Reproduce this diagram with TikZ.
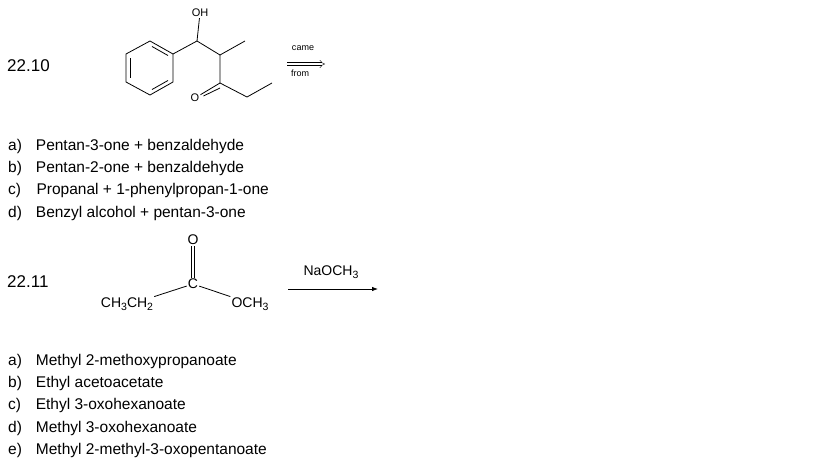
\documentclass[tikz,border=0pt]{standalone}
\usepackage{fontspec}
\setmainfont{Liberation Sans}
\usetikzlibrary{arrows.meta,calc,positioning}
\newcommand{\lsub}[1]{\raisebox{-0.35ex}{\fontsize{10.5}{11}\selectfont #1}}
\tikzset{
  atom/.style={inner sep=1pt,font=\fontsize{11}{12}\selectfont},
  grp/.style={inner sep=1pt,font=\fontsize{14}{15}\selectfont},
  opt/.style={anchor=west,inner sep=0pt,font=\fontsize{15.5}{17}\selectfont},
  num/.style={anchor=west,inner sep=0pt,font=\fontsize{17}{18}\selectfont},
  bond/.style={line width=0.8pt}
}
\begin{document}
\begin{tikzpicture}[x=1pt,y=-1pt]
    \useasboundingbox (0,0) rectangle (819,460);
    % 22.10
    \node[num] (n1) at (7,66) {22.10};
    \coordinate (r1) at (150,41);
    \coordinate (r2) at (173,54);
    \coordinate (r3) at (173,82);
    \coordinate (r4) at (150,95);
    \coordinate (r5) at (126,82);
    \coordinate (r6) at (126,54);
    \draw[bond] (r1)--(r2)--(r3)--(r4)--(r5)--(r6)--cycle;
    \draw[bond] ($(r1)!0.15!(r2)+(-1.5,3.5)$)--($(r2)!0.15!(r1)+(-1.5,3.5)$);
    \draw[bond] ($(r3)!0.15!(r4)+(-1.5,-3.5)$)--($(r4)!0.15!(r3)+(-1.5,-3.5)$);
    \draw[bond] ($(r5)!0.15!(r6)+(4,0)$)--($(r6)!0.15!(r5)+(4,0)$);
    \coordinate (c1) at (197,41);
    \coordinate (c2) at (220,55);
    \coordinate (c3) at (220,83);
    \coordinate (me) at (245,41);
    \coordinate (c4) at (247,97);
    \coordinate (c5) at (272,83);
    \node[atom] (oh) at (200,13) {OH};
    \node[atom] (o1) at (195,98) {O};
    \draw[bond] (r2)--(c1)--(c2)--(me);
    \draw[bond] (c1)--(oh);
    \draw[bond] (c2)--(c3)--(c4)--(c5);
    \draw[bond] (c3)--(o1);
    \draw[bond] ($(c3)+(0,5)$)--($(o1.east)+(3,-2)$);
    \coordinate (a1) at (287,64);
    \coordinate (a2) at (325,64);
    \draw[double,double distance=2.5pt,-{Implies}] (a1)--(a2);
    \node[font=\fontsize{9}{10}\selectfont] (came) at (303,48) {came};
    \node[font=\fontsize{9}{10}\selectfont] (from) at (300,73) {from};
    \node[opt] (o10a) at (8,146) {a)\hspace{0.9em}Pentan-3-one + benzaldehyde};
    \node[opt] (o10b) at (8,168) {b)\hspace{0.9em}Pentan-2-one + benzaldehyde};
    \node[opt] (o10c) at (8,190) {c)\hspace{1em}Propanal + 1-phenylpropan-1-one};
    \node[opt] (o10d) at (8,213) {d)\hspace{0.9em}Benzyl alcohol + pentan-3-one};
    % 22.11
    \node[num] (n2) at (7,282) {22.11};
    \node[grp] (cc) at (193,284) {C};
    \node[grp] (oo) at (193,240) {O};
    \node[grp] (et) at (127,304) {CH\lsub{3}CH\lsub{2}};
    \node[grp] (om) at (250,304) {OCH\lsub{3}};
    \draw[bond,double,double distance=2pt] (oo)--(cc);
    \draw[bond] (et.north east)--(cc);
    \draw[bond] (cc)--(om.north west);
    \coordinate (b1) at (288,289);
    \coordinate (b2) at (378,289);
    \draw[bond,-{Latex[length=6pt]}] (b1)--(b2);
    \node[grp] (reag) at (331,272) {NaOCH\lsub{3}};
    \node[opt] (o11a) at (8,361) {a)\hspace{0.9em}Methyl 2-methoxypropanoate};
    \node[opt] (o11b) at (8,383) {b)\hspace{0.9em}Ethyl acetoacetate};
    \node[opt] (o11c) at (8,405) {c)\hspace{0.95em}Ethyl 3-oxohexanoate};
    \node[opt] (o11d) at (8,428) {d)\hspace{0.9em}Methyl 3-oxohexanoate};
    \node[opt] (o11e) at (8,450) {e)\hspace{0.9em}Methyl 2-methyl-3-oxopentanoate};
\end{tikzpicture}
\end{document}
